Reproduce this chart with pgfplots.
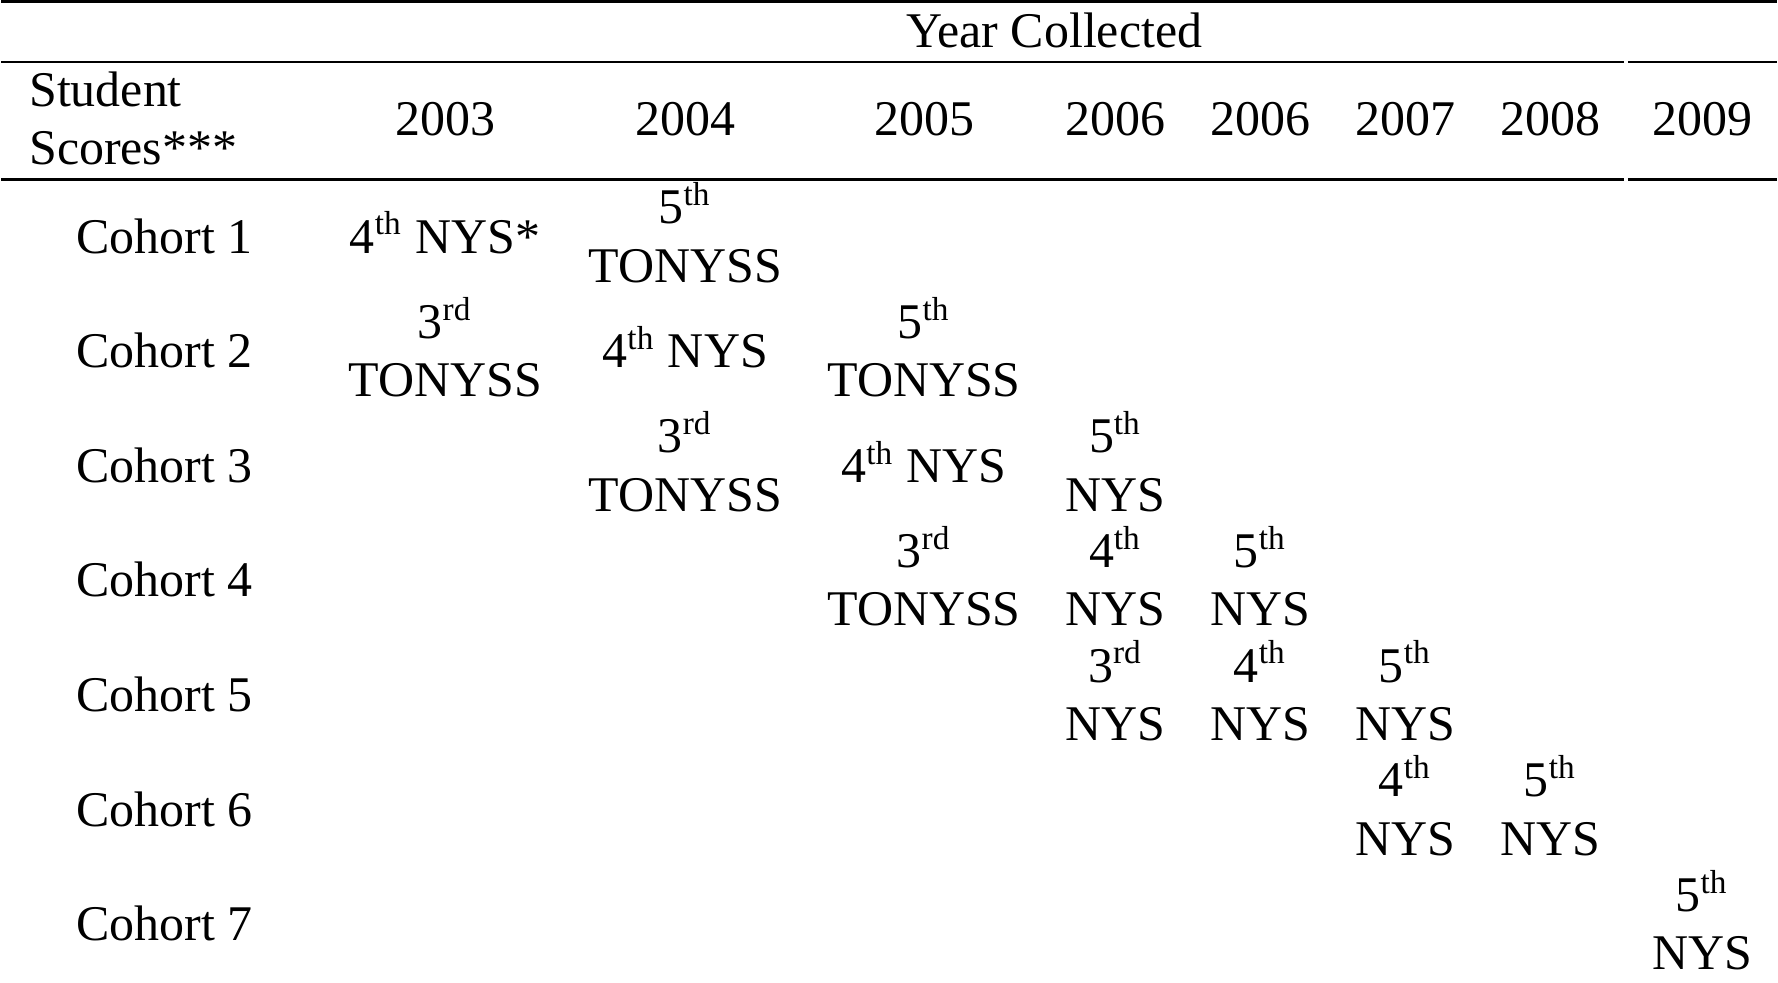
\documentclass[border=0pt]{standalone}
\usepackage{pgfplots}
\pgfplotsset{compat=1.18}
\usepackage{fontspec}
\setmainfont{Liberation Serif}
\begin{document}
\fontsize{12pt}{14pt}\selectfont
\begin{tikzpicture}
\begin{axis}[
  scale only axis, width=426.7pt, height=236.2pt,
  xmin=0, xmax=1568, ymin=0, ymax=866, y dir=reverse,
  hide axis, clip=false,
  every node near coord/.append style={font=\fontsize{12pt}{14pt}\selectfont, text=black},
]
\path (axis cs:0,0) rectangle (axis cs:1568,866);
% rules
\addplot[black, line width=0.6pt] coordinates {(0,1.5) (1568,1.5)};
\addplot[black, line width=0.6pt] coordinates {(0,54.5) (1433.5,54.5)};
\addplot[black, line width=0.6pt] coordinates {(1436.5,54.5) (1568,54.5)};
\addplot[black, line width=0.6pt] coordinates {(0,158) (1433.5,158)};
\addplot[black, line width=0.6pt] coordinates {(1436.5,158) (1568,158)};
% left-aligned header
\addplot[only marks, mark=none,
  nodes near coords, point meta=explicit symbolic,
  nodes near coords style={anchor=base west, inner sep=0pt}]
  table[meta=label, col sep=comma, row sep=\\] {
x,y,label\\
24,94,Student\\
24,145,Scores***\\
};
% centred text
\addplot[only marks, mark=none,
  nodes near coords, point meta=explicit symbolic,
  nodes near coords style={anchor=base, inner sep=0pt}]
  table[meta=label, col sep=comma, row sep=\\] {
x,y,label\\
930,42,Year Collected\\
392,119,2003\\
604,119,2004\\
815,119,2005\\
984,119,2006\\
1112,119,2006\\
1240,119,2007\\
1368,119,2008\\
1502,119,2009\\
144,223,Cohort 1\\
144,324,Cohort 2\\
144,425,Cohort 3\\
144,526,Cohort 4\\
144,627,Cohort 5\\
144,728,Cohort 6\\
144,829,Cohort 7\\
392,223,{4\textsuperscript{th} NYS*}\\
604,197,{5\textsuperscript{th}}\\
604,248.5,TONYSS\\
392,298,{3\textsuperscript{rd}}\\
392,349.5,TONYSS\\
604,324,{4\textsuperscript{th} NYS}\\
815,298,{5\textsuperscript{th}}\\
815,349.5,TONYSS\\
604,399,{3\textsuperscript{rd}}\\
604,450.5,TONYSS\\
815,425,{4\textsuperscript{th} NYS}\\
984,399,{5\textsuperscript{th}}\\
984,450.5,NYS\\
815,500,{3\textsuperscript{rd}}\\
815,551.5,TONYSS\\
984,500,{4\textsuperscript{th}}\\
984,551.5,NYS\\
1112,500,{5\textsuperscript{th}}\\
1112,551.5,NYS\\
984,601,{3\textsuperscript{rd}}\\
984,652.5,NYS\\
1112,601,{4\textsuperscript{th}}\\
1112,652.5,NYS\\
1240,601,{5\textsuperscript{th}}\\
1240,652.5,NYS\\
1240,702,{4\textsuperscript{th}}\\
1240,753.5,NYS\\
1368,702,{5\textsuperscript{th}}\\
1368,753.5,NYS\\
1502,803,{5\textsuperscript{th}}\\
1502,854.5,NYS\\
};
\end{axis}
\end{tikzpicture}
\end{document}
